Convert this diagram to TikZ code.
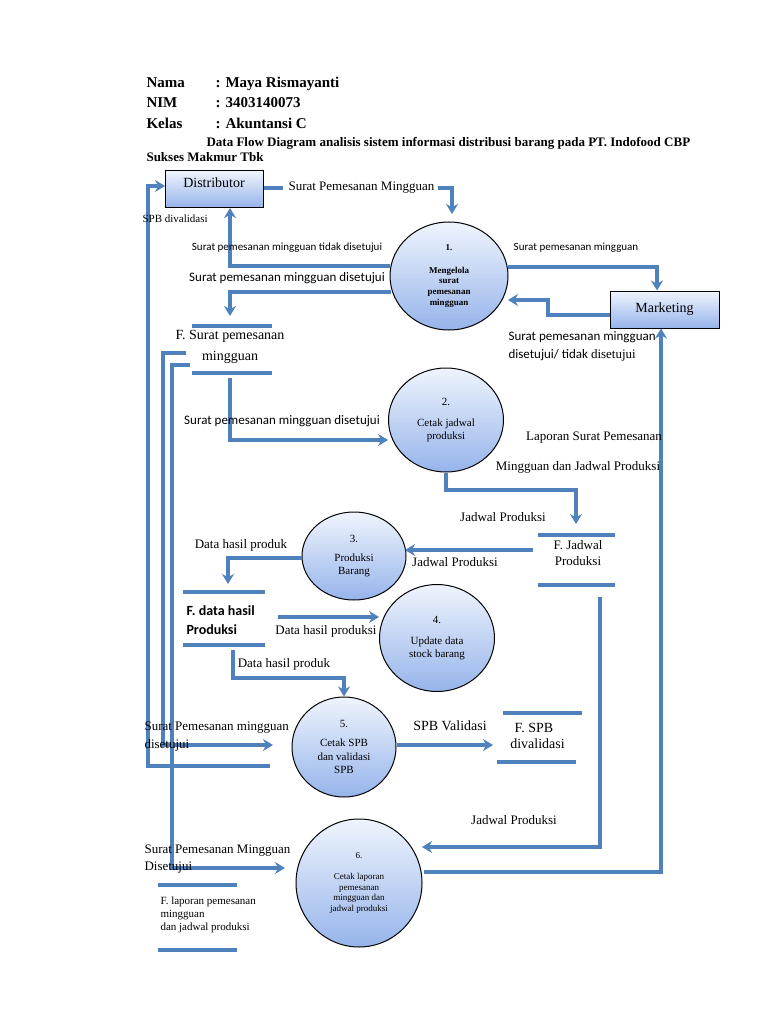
\documentclass[tikz,border=0pt]{standalone}
\usepackage{fontspec}
\setmainfont{Liberation Serif}
\newfontfamily\calfnt{Carlito}
\usetikzlibrary{shapes.geometric,arrows.meta}
\definecolor{fl}{RGB}{79,129,189}
\definecolor{lb}{RGB}{215,228,250}
\definecolor{db}{RGB}{150,180,235}
\newcommand{\fs}[1]{\fontsize{#1}{1.2\dimexpr#1pt\relax}\selectfont}
\begin{document}
\begin{tikzpicture}[x=1pt,y=-1pt,
  flow/.style={draw=fl,line width=3.2pt,-{Stealth[length=10pt,width=12pt]}},
  ln/.style={draw=fl,line width=3.2pt},
  ent/.style={draw=black,line width=1pt,top color=lb!40,bottom color=db,font=\fs{13}},
  proc/.style={ellipse,draw=black,line width=1pt,top color=lb!40,bottom color=db,align=center,font=\bfseries\fs{9}},
  lab/.style={font=\fs{12}},
  sl/.style={font=\calfnt\fs{12}},
  st/.style={draw=fl,line width=3.2pt}]
\useasboundingbox (0,0) rectangle (768,1024);
% header
\node[anchor=base west,font=\bfseries\fs{15}] (h1) at (143,88) {Nama};
\node[anchor=base west,font=\bfseries\fs{15}] (h1b) at (212,88) {: Maya Rismayanti};
\node[anchor=base west,font=\bfseries\fs{15}] (h2) at (143,108) {NIM};
\node[anchor=base west,font=\bfseries\fs{15}] (h2b) at (212,108) {: 3403140073};
\node[anchor=base west,font=\bfseries\fs{15}] (h3) at (143,129) {Kelas};
\node[anchor=base west,font=\bfseries\fs{15}] (h3b) at (212,129) {: Akuntansi C};
\node[anchor=base west,font=\bfseries\fs{13}] (t1) at (203,147) {Data Flow Diagram analisis sistem informasi distribusi barang pada PT. Indofood CBP};
\node[anchor=base west,font=\bfseries\fs{13}] (t2) at (143,162) {Sukses Makmur Tbk};
% entities
\node[ent,minimum width=98pt,minimum height=37pt,anchor=north west] (dist) at (165,170) {};
\node[font=\fs{14},anchor=north] (distl) at (214,174) {Distributor};
\node[ent,minimum width=109pt,minimum height=37pt,font=\fs{14}] (mkt) at (664.5,309.5) {Marketing};
% processes
\node[proc,minimum width=118pt,minimum height=108pt] (p1) at (449,276) {1.\\[12pt]Mengelola\\surat\\pemesanan\\mingguan};
\node[proc,minimum width=115pt,minimum height=104pt,font=\fs{11}] (p2) at (446,420) {2.\\[8pt]Cetak jadwal\\produksi};
\node[proc,minimum width=104pt,minimum height=88pt,font=\fs{11}] (p3) at (354,556) {3.\\[6pt]Produksi\\Barang};
\node[proc,minimum width=115pt,minimum height=107pt,font=\fs{11}] (p4) at (437,638) {4.\\[8pt]Update data\\stock barang};
\node[proc,minimum width=104pt,minimum height=100pt,font=\fs{11}] (p5) at (344,747) {5.\\[6pt]Cetak SPB\\dan validasi\\SPB};
\node[proc,minimum width=126pt,minimum height=128pt,font=\fs{9}] (p6) at (359,883) {6.\\[10pt]Cetak laporan\\pemesanan\\mingguan dan\\jadwal produksi};
% stores
\draw[st] (192,326) -- (272,326) (192,373) -- (272,373);
\node[align=center,font=\fs{14}] (fs) at (230,347) {F. Surat pemesanan\\[4pt]mingguan};
\draw[st] (538,535) -- (615,535) (538,585) -- (615,585);
\node[align=center,font=\fs{13}] (fj) at (578,553) {F. Jadwal\\Produksi};
\draw[st] (183,592) -- (265,592) (183,645) -- (265,645);
\node[align=left,anchor=west,font=\calfnt\bfseries\fs{14}] (fd) at (183,620) {F. data hasil\\[2pt]Produksi};
\draw[st] (503,713) -- (582,713) (497,762) -- (576,762);
\node[align=center,font=\fs{14}] (fspb) at (534,736) {F. SPB\\\ \ divalidasi};
\draw[st] (158,885) -- (237,885) (158,950) -- (237,950);
\node[align=left,anchor=west,font=\fs{11}] (flap) at (157,915) {F. laporan pemesanan\\mingguan\\dan jadwal produksi};
% flows
\draw[ln] (dist.east|-0,188) -- (283,188);
\node[lab,font=\fs{13},anchor=west] (l1) at (285,188) {Surat Pemesanan Mingguan};
\draw[flow] (l1.east) -- (452,188) -- (452,214);
\draw[flow] (p1.west|-0,266) -- (230,266) -- (dist.south-|230,0);
\node[sl,font=\calfnt\fs{11}] at (287,248) {Surat pemesanan mingguan tidak disetujui};
\draw[flow] (391,292) -- (230,292) -- (230,316);
\node[sl,font=\calfnt\fs{13}] at (287,278) {Surat pemesanan mingguan disetujui};
\draw[flow] (508,267) -- (657,267) -- (mkt.north-|657,0);
\node[sl,font=\calfnt\fs{11}] at (576,248) {Surat pemesanan mingguan};
\draw[flow] (mkt.west|-0,315) -- (548,315) -- (548,300) -- (508,300);
\node[sl,font=\calfnt\fs{13},anchor=west] at (505,337) {Surat pemesanan mingguan};
\node[sl,font=\calfnt\fs{13},anchor=west] at (505,355) {disetujui/ tidak \rmfamily disetujui};
\draw[flow] (230,378) -- (230,440) -- (p2.west|-0,440);
\node[sl,font=\calfnt\fs{13}] at (282,421) {Surat pemesanan mingguan disetujui};
\draw[flow] (p2.south) -- (446,490) -- (576,490) -- (576,524);
\node[lab,font=\fs{13}] at (503,517) {Jadwal Produksi};
\draw[flow] (533,550) -- (405,550);
\node[lab,font=\fs{13}] at (455,562) {Jadwal Produksi};
\draw[flow] (p3.west|-0,558) -- (228,558) -- (228,584);
\node[lab,font=\fs{13}] at (241,545) {Data hasil produk};
\draw[flow] (278,617) -- (p4.west|-0,617);
\node[lab,font=\fs{13}] at (326,631) {Data hasil produksi};
\draw[flow] (233,650) -- (233,678) -- (344,678) -- (p5.north);
\node[lab,font=\fs{13}] at (284,664) {Data hasil produk};
\draw[flow] (p5.east|-0,745) -- (493,745);
\node[lab,font=\fs{14}] at (450,726) {SPB Validasi};
\draw[flow] (600,597) -- (600,847) -- (422,847);
\node[lab,font=\fs{13}] at (514,820) {Jadwal Produksi};
\draw[flow] (424,872) -- (661,872) -- (mkt.south-|661,0);
\node[lab,font=\fs{13}] at (594,438) {Laporan Surat Pemesanan};
\node[lab,font=\fs{13}] at (578,467) {Mingguan dan Jadwal Produksi};
% left loops
\draw[flow] (270,766) -- (148,766) -- (148,186) -- (dist.west|-0,186);
\node[font=\fs{11},anchor=west] at (139,219) {SPB divalidasi};
\draw[flow] (186,353) -- (163,353) -- (163,745) -- (273,745);
\draw[flow] (190,365) -- (172,365) -- (172,868) -- (285,868);
\node[font=\fs{13},anchor=west] at (141,728) {Surat Pemesanan mingguan};
\node[font=\fs{13},anchor=west] at (141,745) {disetujui};
\node[font=\fs{13},anchor=west] at (141,851) {Surat Pemesanan Mingguan};
\node[font=\fs{13},anchor=west] at (141,868) {Disetujui};
\end{tikzpicture}
\end{document}
